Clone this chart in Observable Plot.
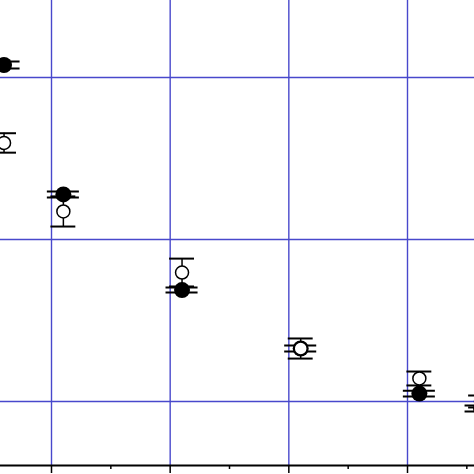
<!DOCTYPE html>
<html>
<head>
<meta charset="utf-8">
<script src="https://cdn.jsdelivr.net/npm/d3@7"></script>
<script src="https://cdn.jsdelivr.net/npm/@observablehq/plot@0.6"></script>
<style>
  html, body { margin: 0; padding: 0; background: white; overflow: hidden; }
</style>
</head>
<body>
<div id="chart"></div>
<script>
// Data
const xValues   = [0.6, 1.1, 2.1, 3.1, 4.1, 4.62];
const filledY   = [3.077, 2.278, 1.688, 1.327, 1.049, 0.957];
const filledErr = [0.022, 0.019, 0.015, 0.018, 0.018, 0.018];
const openY     = [2.596, 2.173, 1.796, 1.327, 1.142, 1.0];
const openErr   = [0.060, 0.093, 0.086, 0.062, 0.043, 0.037];

const xMajorTicks = [1, 2, 3, 4];
const xMinorTicks = [1.5, 2.5, 3.5, 4.5];
const yGridTicks  = [1, 2, 3];

const filled = xValues.map((x, i) => ({x, y: filledY[i], lo: filledY[i] - filledErr[i], hi: filledY[i] + filledErr[i]}));
const open   = xValues.map((x, i) => ({x, y: openY[i],   lo: openY[i] - openErr[i],     hi: openY[i] + openErr[i]}));

const gridColor = "#4848cc";
const capFilled = 0.135; // half cap width in x units
const capOpen = 0.105;

const chart = Plot.plot({
  width: 474,
  height: 474,
  marginTop: 0,
  marginRight: 0,
  marginLeft: 0,
  marginBottom: 9,
  x: {domain: [0.5702, 4.5646]},
  y: {domain: [0.6049, 3.4753], axis: null},
  marks: [
    Plot.gridX(xMajorTicks, {stroke: gridColor, strokeOpacity: 1, strokeWidth: 1.4}),
    Plot.gridY(yGridTicks, {stroke: gridColor, strokeOpacity: 1, strokeWidth: 1.4}),
    Plot.frame({anchor: "bottom", stroke: "#000", strokeWidth: 2}),
    Plot.axisX({ticks: xMajorTicks, tickSize: 8, tickFormat: () => "", label: null, stroke: "#000", strokeWidth: 1.5}),
    Plot.axisX({ticks: xMinorTicks, tickSize: 4, tickFormat: () => "", label: null, stroke: "#000", strokeWidth: 1.5}),
    // error bars
    Plot.ruleX(open, {x: "x", y1: "lo", y2: "hi", stroke: "#000", strokeWidth: 1.5, clip: true}),
    Plot.ruleY(open, {y: "lo", x1: d => d.x - capOpen, x2: d => d.x + capOpen, stroke: "#000", strokeWidth: 2, clip: true}),
    Plot.ruleY(open, {y: "hi", x1: d => d.x - capOpen, x2: d => d.x + capOpen, stroke: "#000", strokeWidth: 2, clip: true}),
    Plot.ruleY(filled, {y: "lo", x1: d => d.x - capFilled, x2: d => d.x + capFilled, stroke: "#000", strokeWidth: 2, clip: true}),
    Plot.ruleY(filled, {y: "hi", x1: d => d.x - capFilled, x2: d => d.x + capFilled, stroke: "#000", strokeWidth: 2, clip: true}),
    // markers
    Plot.dot(filled, {x: "x", y: "y", r: 8, fill: "#000", stroke: "none", clip: true}),
    Plot.dot(open, {x: "x", y: "y", r: 6.5, fill: "#fff", stroke: "#000", strokeWidth: 1.5, clip: true})
  ]
});
document.getElementById("chart").appendChild(chart);
</script>
</body>
</html>
